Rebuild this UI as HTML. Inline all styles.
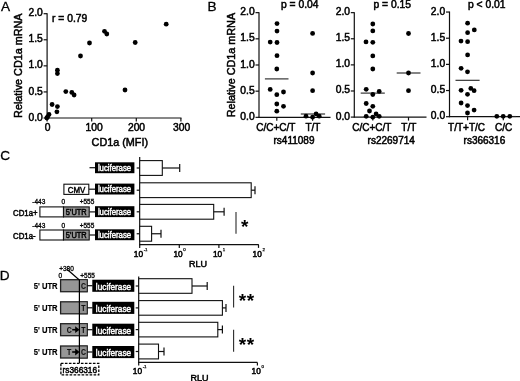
<!DOCTYPE html>
<html><head><meta charset="utf-8"><title>Figure</title>
<style>html,body{margin:0;padding:0;background:#fff;}svg{display:block;filter:blur(0.4px);}text{font-family:"Liberation Sans", Arial, Helvetica, sans-serif;fill:#000;stroke:#000;stroke-width:0.5px;}.tl{font-size:10.3px}.al{font-size:10.8px}.sm{font-size:9px}.pl{font-size:13.6px;stroke-width:0.3px}.ti{font-size:6.5px;stroke-width:0.3px}.w{fill:#fff;stroke:#fff;stroke-width:0.3px}</style></head><body>
<svg width="520" height="381" viewBox="0 0 520 381">
<rect width="520" height="381" fill="#fff"/>
<text x="1" y="10.9" class="pl" text-anchor="start" >A</text>
<line x1="47.1" y1="13.2" x2="47.1" y2="118.5" stroke="#101010" stroke-width="1.2"/>
<line x1="46.6" y1="118.0" x2="181.5" y2="118.0" stroke="#101010" stroke-width="1.2"/>
<line x1="43.6" y1="118.0" x2="47.1" y2="118.0" stroke="#101010" stroke-width="1.2"/>
<text x="42.800000000000004" y="121.0" class="tl" text-anchor="end" >0.0</text>
<line x1="43.6" y1="91.925" x2="47.1" y2="91.925" stroke="#101010" stroke-width="1.2"/>
<text x="42.800000000000004" y="94.625" class="tl" text-anchor="end" >0.5</text>
<line x1="43.6" y1="65.85" x2="47.1" y2="65.85" stroke="#101010" stroke-width="1.2"/>
<text x="42.800000000000004" y="68.25" class="tl" text-anchor="end" >1.0</text>
<line x1="43.6" y1="39.775000000000006" x2="47.1" y2="39.775000000000006" stroke="#101010" stroke-width="1.2"/>
<text x="42.800000000000004" y="41.875" class="tl" text-anchor="end" >1.5</text>
<line x1="43.6" y1="13.700000000000003" x2="47.1" y2="13.700000000000003" stroke="#101010" stroke-width="1.2"/>
<text x="42.800000000000004" y="15.5" class="tl" text-anchor="end" >2.0</text>
<line x1="47.1" y1="118.0" x2="47.1" y2="121.5" stroke="#101010" stroke-width="1.2"/>
<text x="47.5" y="131.2" class="tl" text-anchor="middle" >0</text>
<line x1="91.7" y1="118.0" x2="91.7" y2="121.5" stroke="#101010" stroke-width="1.2"/>
<text x="94.10000000000001" y="131.2" class="tl" text-anchor="middle" >100</text>
<line x1="136.3" y1="118.0" x2="136.3" y2="121.5" stroke="#101010" stroke-width="1.2"/>
<text x="136.5" y="131.2" class="tl" text-anchor="middle" >200</text>
<line x1="180.9" y1="118.0" x2="180.9" y2="121.5" stroke="#101010" stroke-width="1.2"/>
<text x="181.70000000000002" y="131.2" class="tl" text-anchor="middle" >300</text>
<text x="119.8" y="146" class="al" text-anchor="middle" >CD1a (MFI)</text>
<text transform="translate(22.3,65.7) rotate(-90)" class="al" text-anchor="middle">Relative CD1a mRNA</text>
<text x="52" y="21.5" class="tl" text-anchor="start" >r = 0.79</text>
<circle cx="166.2" cy="24.2" r="2.4" fill="#000"/>
<circle cx="135.2" cy="42.5" r="2.4" fill="#000"/>
<circle cx="104.5" cy="31.3" r="2.4" fill="#000"/>
<circle cx="106.8" cy="34" r="2.4" fill="#000"/>
<circle cx="89.5" cy="43" r="2.4" fill="#000"/>
<circle cx="80.5" cy="56" r="2.4" fill="#000"/>
<circle cx="57.4" cy="70.2" r="2.4" fill="#000"/>
<circle cx="57.4" cy="73.6" r="2.4" fill="#000"/>
<circle cx="125" cy="90" r="2.4" fill="#000"/>
<circle cx="65.8" cy="91.6" r="2.4" fill="#000"/>
<circle cx="71.8" cy="92.4" r="2.4" fill="#000"/>
<circle cx="74.1" cy="95" r="2.4" fill="#000"/>
<circle cx="52.1" cy="104.5" r="2.4" fill="#000"/>
<circle cx="57.4" cy="106.6" r="2.4" fill="#000"/>
<circle cx="56.9" cy="111.8" r="2.4" fill="#000"/>
<circle cx="49" cy="114.4" r="2.4" fill="#000"/>
<circle cx="47.7" cy="116.8" r="2.4" fill="#000"/>
<circle cx="46.8" cy="118" r="2.4" fill="#000"/>
<text x="207.6" y="10.8" class="pl" text-anchor="start" >B</text>
<text transform="translate(235.3,65.1) rotate(-90)" class="al" text-anchor="middle">Relative CD1a mRNA</text>
<line x1="259" y1="12.15" x2="259" y2="117.85" stroke="#101010" stroke-width="1.2"/>
<line x1="258.5" y1="117.35" x2="330.5" y2="117.35" stroke="#101010" stroke-width="1.2"/>
<line x1="255.5" y1="117.35" x2="259" y2="117.35" stroke="#101010" stroke-width="1.2"/>
<text x="254.7" y="119.85" class="tl" text-anchor="end" >0.0</text>
<line x1="255.5" y1="91.175" x2="259" y2="91.175" stroke="#101010" stroke-width="1.2"/>
<text x="254.7" y="93.675" class="tl" text-anchor="end" >0.5</text>
<line x1="255.5" y1="65.0" x2="259" y2="65.0" stroke="#101010" stroke-width="1.2"/>
<text x="254.7" y="67.5" class="tl" text-anchor="end" >1.0</text>
<line x1="255.5" y1="38.825" x2="259" y2="38.825" stroke="#101010" stroke-width="1.2"/>
<text x="254.7" y="41.325" class="tl" text-anchor="end" >1.5</text>
<line x1="255.5" y1="12.650000000000006" x2="259" y2="12.650000000000006" stroke="#101010" stroke-width="1.2"/>
<text x="254.7" y="15.150000000000006" class="tl" text-anchor="end" >2.0</text>
<line x1="276.8" y1="117.35" x2="276.8" y2="120.85" stroke="#101010" stroke-width="1.2"/>
<line x1="312.6" y1="117.35" x2="312.6" y2="120.85" stroke="#101010" stroke-width="1.2"/>
<text x="275.8" y="130.9" class="tl" text-anchor="middle" style="font-size:10px">C/C+C/T</text>
<text x="312.90000000000003" y="130.9" class="tl" text-anchor="middle" style="font-size:10px">T/T</text>
<text x="294" y="144.4" class="tl" text-anchor="middle" style="font-size:10px">rs411089</text>
<text x="299.7" y="8.2" class="tl" text-anchor="middle" >p = 0.04</text>
<line x1="264.9" y1="78.9" x2="288.5" y2="78.9" stroke="#222" stroke-width="1.1"/>
<line x1="300.8" y1="114.0" x2="325.1" y2="114.0" stroke="#222" stroke-width="1.1"/>
<circle cx="277" cy="23.6" r="2.4" fill="#000"/>
<circle cx="277" cy="31.1" r="2.4" fill="#000"/>
<circle cx="270.2" cy="42.1" r="2.4" fill="#000"/>
<circle cx="277" cy="42.5" r="2.4" fill="#000"/>
<circle cx="277" cy="55.7" r="2.4" fill="#000"/>
<circle cx="276.8" cy="69" r="2.4" fill="#000"/>
<circle cx="270.2" cy="89.4" r="2.4" fill="#000"/>
<circle cx="283.5" cy="92" r="2.4" fill="#000"/>
<circle cx="276.8" cy="94.7" r="2.4" fill="#000"/>
<circle cx="276.8" cy="104" r="2.4" fill="#000"/>
<circle cx="283.5" cy="106.3" r="2.4" fill="#000"/>
<circle cx="276.8" cy="111.2" r="2.4" fill="#000"/>
<circle cx="312.6" cy="33.4" r="2.4" fill="#000"/>
<circle cx="312.6" cy="73" r="2.4" fill="#000"/>
<circle cx="312.6" cy="90.7" r="2.4" fill="#000"/>
<circle cx="316.1" cy="113.9" r="2.4" fill="#000"/>
<circle cx="306" cy="116.2" r="2.4" fill="#000"/>
<circle cx="312.6" cy="117.2" r="2.4" fill="#000"/>
<circle cx="319.2" cy="116.2" r="2.4" fill="#000"/>
<line x1="354.3" y1="12.15" x2="354.3" y2="117.6" stroke="#101010" stroke-width="1.2"/>
<line x1="353.8" y1="117.1" x2="426.5" y2="117.1" stroke="#101010" stroke-width="1.2"/>
<line x1="350.8" y1="117.1" x2="354.3" y2="117.1" stroke="#101010" stroke-width="1.2"/>
<text x="350.0" y="119.6" class="tl" text-anchor="end" >0.0</text>
<line x1="350.8" y1="90.9875" x2="354.3" y2="90.9875" stroke="#101010" stroke-width="1.2"/>
<text x="350.0" y="93.4875" class="tl" text-anchor="end" >0.5</text>
<line x1="350.8" y1="64.875" x2="354.3" y2="64.875" stroke="#101010" stroke-width="1.2"/>
<text x="350.0" y="67.375" class="tl" text-anchor="end" >1.0</text>
<line x1="350.8" y1="38.7625" x2="354.3" y2="38.7625" stroke="#101010" stroke-width="1.2"/>
<text x="350.0" y="41.2625" class="tl" text-anchor="end" >1.5</text>
<line x1="350.8" y1="12.650000000000006" x2="354.3" y2="12.650000000000006" stroke="#101010" stroke-width="1.2"/>
<text x="350.0" y="15.150000000000006" class="tl" text-anchor="end" >2.0</text>
<line x1="372.8" y1="117.1" x2="372.8" y2="120.6" stroke="#101010" stroke-width="1.2"/>
<line x1="408.5" y1="117.1" x2="408.5" y2="120.6" stroke="#101010" stroke-width="1.2"/>
<text x="371.8" y="130.9" class="tl" text-anchor="middle" style="font-size:10px">C/C+C/T</text>
<text x="408.8" y="130.9" class="tl" text-anchor="middle" style="font-size:10px">T/T</text>
<text x="391.2" y="144.4" class="tl" text-anchor="middle" style="font-size:10px">rs2269714</text>
<text x="392.2" y="8.2" class="tl" text-anchor="middle" >p = 0.15</text>
<line x1="360.7" y1="93.1" x2="384.8" y2="93.1" stroke="#222" stroke-width="1.1"/>
<line x1="396.7" y1="73" x2="420.5" y2="73" stroke="#222" stroke-width="1.1"/>
<circle cx="372.8" cy="24" r="2.4" fill="#000"/>
<circle cx="372.8" cy="30.9" r="2.4" fill="#000"/>
<circle cx="366" cy="41.9" r="2.4" fill="#000"/>
<circle cx="372.8" cy="42.3" r="2.4" fill="#000"/>
<circle cx="372.8" cy="55.9" r="2.4" fill="#000"/>
<circle cx="372.8" cy="69" r="2.4" fill="#000"/>
<circle cx="366.2" cy="89.3" r="2.4" fill="#000"/>
<circle cx="379.2" cy="91.4" r="2.4" fill="#000"/>
<circle cx="372.8" cy="94.5" r="2.4" fill="#000"/>
<circle cx="366.2" cy="103.5" r="2.4" fill="#000"/>
<circle cx="372.8" cy="106.3" r="2.4" fill="#000"/>
<circle cx="369.5" cy="111" r="2.4" fill="#000"/>
<circle cx="376.1" cy="113.9" r="2.4" fill="#000"/>
<circle cx="366.2" cy="116.3" r="2.4" fill="#000"/>
<circle cx="372.8" cy="117.2" r="2.4" fill="#000"/>
<circle cx="379.2" cy="116.3" r="2.4" fill="#000"/>
<circle cx="408.5" cy="33.5" r="2.4" fill="#000"/>
<circle cx="408.5" cy="73" r="2.4" fill="#000"/>
<circle cx="408.5" cy="90.7" r="2.4" fill="#000"/>
<line x1="449.5" y1="11.55" x2="449.5" y2="117.2" stroke="#101010" stroke-width="1.2"/>
<line x1="449.0" y1="116.7" x2="520" y2="116.7" stroke="#101010" stroke-width="1.2"/>
<line x1="446.0" y1="116.7" x2="449.5" y2="116.7" stroke="#101010" stroke-width="1.2"/>
<text x="445.2" y="119.2" class="tl" text-anchor="end" >0.0</text>
<line x1="446.0" y1="90.5375" x2="449.5" y2="90.5375" stroke="#101010" stroke-width="1.2"/>
<text x="445.2" y="93.0375" class="tl" text-anchor="end" >0.5</text>
<line x1="446.0" y1="64.375" x2="449.5" y2="64.375" stroke="#101010" stroke-width="1.2"/>
<text x="445.2" y="66.875" class="tl" text-anchor="end" >1.0</text>
<line x1="446.0" y1="38.21249999999999" x2="449.5" y2="38.21249999999999" stroke="#101010" stroke-width="1.2"/>
<text x="445.2" y="40.71249999999999" class="tl" text-anchor="end" >1.5</text>
<line x1="446.0" y1="12.049999999999997" x2="449.5" y2="12.049999999999997" stroke="#101010" stroke-width="1.2"/>
<text x="445.2" y="14.549999999999997" class="tl" text-anchor="end" >2.0</text>
<line x1="467.6" y1="116.7" x2="467.6" y2="120.2" stroke="#101010" stroke-width="1.2"/>
<line x1="503.3" y1="116.7" x2="503.3" y2="120.2" stroke="#101010" stroke-width="1.2"/>
<text x="466.6" y="130.9" class="tl" text-anchor="middle" style="font-size:10px">T/T+T/C</text>
<text x="503.6" y="130.9" class="tl" text-anchor="middle" style="font-size:10px">C/C</text>
<text x="484.4" y="144.4" class="tl" text-anchor="middle" style="font-size:10px">rs366316</text>
<text x="486.8" y="8.2" class="tl" text-anchor="middle" >p &lt; 0.01</text>
<line x1="455.5" y1="80.3" x2="479.6" y2="80.3" stroke="#222" stroke-width="1.1"/>
<line x1="492" y1="116.5" x2="516" y2="116.5" stroke="#222" stroke-width="1.1"/>
<circle cx="467.6" cy="23.2" r="2.4" fill="#000"/>
<circle cx="474.3" cy="29.9" r="2.4" fill="#000"/>
<circle cx="467.6" cy="32.7" r="2.4" fill="#000"/>
<circle cx="461" cy="41.1" r="2.4" fill="#000"/>
<circle cx="467.6" cy="41.7" r="2.4" fill="#000"/>
<circle cx="467.6" cy="54.9" r="2.4" fill="#000"/>
<circle cx="461.1" cy="68.3" r="2.4" fill="#000"/>
<circle cx="467.5" cy="71.8" r="2.4" fill="#000"/>
<circle cx="470.8" cy="88.4" r="2.4" fill="#000"/>
<circle cx="461.1" cy="90.3" r="2.4" fill="#000"/>
<circle cx="474.1" cy="90.7" r="2.4" fill="#000"/>
<circle cx="467.5" cy="94.3" r="2.4" fill="#000"/>
<circle cx="461.1" cy="103" r="2.4" fill="#000"/>
<circle cx="467.5" cy="105.6" r="2.4" fill="#000"/>
<circle cx="474.1" cy="110.1" r="2.4" fill="#000"/>
<circle cx="467.5" cy="113" r="2.4" fill="#000"/>
<circle cx="496.8" cy="116.3" r="2.4" fill="#000"/>
<circle cx="503.2" cy="116.3" r="2.4" fill="#000"/>
<circle cx="509.8" cy="116.3" r="2.4" fill="#000"/>
<text x="0.3" y="159.7" class="pl" text-anchor="start" >C</text>
<rect x="95" y="162.3" width="39.4" height="10.9" fill="#000"/>
<text transform="translate(114.5,170.75) scale(0.915,1)" class="sm w" text-anchor="middle" style="font-size:8.5px;stroke-width:0.45px">luciferase</text>
<rect x="95" y="183.6" width="39.4" height="10.9" fill="#000"/>
<text transform="translate(114.5,192.04999999999998) scale(0.915,1)" class="sm w" text-anchor="middle" style="font-size:8.5px;stroke-width:0.45px">luciferase</text>
<rect x="95" y="206.2" width="39.4" height="10.9" fill="#000"/>
<text transform="translate(114.5,214.64999999999998) scale(0.915,1)" class="sm w" text-anchor="middle" style="font-size:8.5px;stroke-width:0.45px">luciferase</text>
<rect x="95" y="229.3" width="39.4" height="10.9" fill="#000"/>
<text transform="translate(114.5,237.75) scale(0.915,1)" class="sm w" text-anchor="middle" style="font-size:8.5px;stroke-width:0.45px">luciferase</text>
<line x1="89.5" y1="167.7" x2="95" y2="167.7" stroke="#101010" stroke-width="1.2"/>
<rect x="63.9" y="184.2" width="24.9" height="10.2" fill="#fff" stroke="#101010" stroke-width="1.1"/>
<text transform="translate(76.5,192.6) scale(0.88,1)" class="sm" text-anchor="middle" >CMV</text>
<line x1="89" y1="189.2" x2="95" y2="189.2" stroke="#101010" stroke-width="1.2"/>
<rect x="39.9" y="206.9" width="23.6" height="10" fill="#fff" stroke="#101010" stroke-width="1.1"/>
<rect x="63.5" y="206.9" width="25.7" height="10" fill="#949494" stroke="#101010" stroke-width="1.1"/>
<text transform="translate(76.3,215.20000000000002) scale(0.9,1)" class="sm" text-anchor="middle" style="font-size:8.3px;stroke-width:0.45px">5'UTR</text>
<line x1="89.5" y1="211.9" x2="95" y2="211.9" stroke="#101010" stroke-width="1.2"/>
<text transform="translate(13,215.9) scale(0.87,1)" class="sm" text-anchor="start" >CD1a+</text>
<text x="38.8" y="204.4" class="ti" text-anchor="middle" >-443</text>
<text x="63.4" y="204.4" class="ti" text-anchor="middle" >0</text>
<text x="87" y="204.4" class="ti" text-anchor="middle" >+555</text>
<rect x="39.9" y="230.0" width="23.6" height="10" fill="#fff" stroke="#101010" stroke-width="1.1"/>
<rect x="63.5" y="230.0" width="25.7" height="10" fill="#949494" stroke="#101010" stroke-width="1.1"/>
<text transform="translate(76.3,238.3) scale(0.9,1)" class="sm" text-anchor="middle" style="font-size:8.3px;stroke-width:0.45px">5'UTR</text>
<line x1="89.5" y1="235.0" x2="95" y2="235.0" stroke="#101010" stroke-width="1.2"/>
<text transform="translate(13,239.0) scale(0.87,1)" class="sm" text-anchor="start" >CD1a-</text>
<text x="38.8" y="227.5" class="ti" text-anchor="middle" >-443</text>
<text x="63.4" y="227.5" class="ti" text-anchor="middle" >0</text>
<text x="87" y="227.5" class="ti" text-anchor="middle" >+555</text>
<line x1="139.7" y1="157" x2="139.7" y2="245.2" stroke="#101010" stroke-width="1.2"/>
<line x1="139.2" y1="244.7" x2="258.8" y2="244.7" stroke="#101010" stroke-width="1.2"/>
<line x1="139.7" y1="244.7" x2="139.7" y2="247.89999999999998" stroke="#101010" stroke-width="1.2"/>
<line x1="179.29999999999998" y1="244.7" x2="179.29999999999998" y2="247.89999999999998" stroke="#101010" stroke-width="1.2"/>
<line x1="218.89999999999998" y1="244.7" x2="218.89999999999998" y2="247.89999999999998" stroke="#101010" stroke-width="1.2"/>
<line x1="258.5" y1="244.7" x2="258.5" y2="247.89999999999998" stroke="#101010" stroke-width="1.2"/>
<text x="133.79999999999998" y="256.8" style="font-size:8.3px">10<tspan dx="0.6" dy="-5.6" style="font-size:4.3px;stroke-width:0.25px">-1</tspan></text>
<text x="173.39999999999998" y="256.8" style="font-size:8.3px">10<tspan dx="0.6" dy="-5.6" style="font-size:4.3px;stroke-width:0.25px">0</tspan></text>
<text x="212.99999999999997" y="256.8" style="font-size:8.3px">10<tspan dx="0.6" dy="-5.6" style="font-size:4.3px;stroke-width:0.25px">1</tspan></text>
<text x="252.6" y="256.8" style="font-size:8.3px">10<tspan dx="0.6" dy="-5.6" style="font-size:4.3px;stroke-width:0.25px">2</tspan></text>
<text x="198" y="266.7" class="sm" text-anchor="middle" >RLU</text>
<rect x="139.7" y="160.6" width="22.600000000000023" height="14.8" fill="#fff" stroke="#101010" stroke-width="1.1"/>
<line x1="162.3" y1="168.0" x2="179.7" y2="168.0" stroke="#101010" stroke-width="1.2"/>
<line x1="179.7" y1="164.0" x2="179.7" y2="172.0" stroke="#101010" stroke-width="1.2"/>
<line x1="136.7" y1="168.0" x2="139.7" y2="168.0" stroke="#101010" stroke-width="1.2"/>
<rect x="139.7" y="182.8" width="111.5" height="14.8" fill="#fff" stroke="#101010" stroke-width="1.1"/>
<line x1="251.2" y1="190.20000000000002" x2="255" y2="190.20000000000002" stroke="#101010" stroke-width="1.2"/>
<line x1="255" y1="186.20000000000002" x2="255" y2="194.20000000000002" stroke="#101010" stroke-width="1.2"/>
<line x1="136.7" y1="190.20000000000002" x2="139.7" y2="190.20000000000002" stroke="#101010" stroke-width="1.2"/>
<rect x="139.7" y="204.4" width="74.0" height="14.8" fill="#fff" stroke="#101010" stroke-width="1.1"/>
<line x1="213.7" y1="211.8" x2="224.1" y2="211.8" stroke="#101010" stroke-width="1.2"/>
<line x1="224.1" y1="207.8" x2="224.1" y2="215.8" stroke="#101010" stroke-width="1.2"/>
<line x1="136.7" y1="211.8" x2="139.7" y2="211.8" stroke="#101010" stroke-width="1.2"/>
<rect x="139.7" y="226.3" width="11.900000000000006" height="14.9" fill="#fff" stroke="#101010" stroke-width="1.1"/>
<line x1="151.6" y1="233.75" x2="161" y2="233.75" stroke="#101010" stroke-width="1.2"/>
<line x1="161" y1="229.75" x2="161" y2="237.75" stroke="#101010" stroke-width="1.2"/>
<line x1="136.7" y1="233.75" x2="139.7" y2="233.75" stroke="#101010" stroke-width="1.2"/>
<line x1="236" y1="212" x2="236" y2="233.7" stroke="#2a2a2a" stroke-width="1.1"/>
<text x="244.7" y="232.9" class="pl" text-anchor="middle" style="font-size:19px;font-weight:bold;stroke-width:0">*</text>
<text x="-0.3" y="279.6" class="pl" text-anchor="start" >D</text>
<rect x="60.6" y="279.7" width="26.6" height="12" fill="#969696" stroke="#222" stroke-width="1.3"/>
<rect x="79.5" y="279.7" width="7.7" height="12" fill="#909090" stroke="#222" stroke-width="0.9"/>
<text transform="translate(33.7,288.9) scale(0.85,1)" class="sm" text-anchor="start" style="font-weight:bold;stroke-width:0.15px">5' UTR</text>
<line x1="87.2" y1="285.7" x2="92.5" y2="285.7" stroke="#101010" stroke-width="1.2"/>
<rect x="92.3" y="279.7" width="42" height="12.1" fill="#000"/>
<text transform="translate(113.5,289.7) scale(0.92,1)" class="sm w" text-anchor="middle" style="font-size:9px;stroke-width:0.45px">luciferase</text>
<text transform="translate(83.4,288.8) scale(0.85,1)" class="sm" text-anchor="middle" style="font-weight:bold;font-size:8.2px;stroke-width:0.1px;fill:#111">C</text>
<rect x="60.6" y="301.8" width="26.6" height="12" fill="#969696" stroke="#222" stroke-width="1.3"/>
<rect x="79.5" y="301.8" width="7.7" height="12" fill="#909090" stroke="#222" stroke-width="0.9"/>
<text transform="translate(33.7,311.0) scale(0.85,1)" class="sm" text-anchor="start" style="font-weight:bold;stroke-width:0.15px">5' UTR</text>
<line x1="87.2" y1="307.8" x2="92.5" y2="307.8" stroke="#101010" stroke-width="1.2"/>
<rect x="92.3" y="301.8" width="42" height="12.1" fill="#000"/>
<text transform="translate(113.5,311.8) scale(0.92,1)" class="sm w" text-anchor="middle" style="font-size:9px;stroke-width:0.45px">luciferase</text>
<text transform="translate(83.4,310.90000000000003) scale(0.85,1)" class="sm" text-anchor="middle" style="font-weight:bold;font-size:8.2px;stroke-width:0.1px;fill:#111">T</text>
<rect x="60.6" y="323.7" width="26.6" height="12" fill="#969696" stroke="#222" stroke-width="1.3"/>
<rect x="79.5" y="323.7" width="7.7" height="12" fill="#909090" stroke="#222" stroke-width="0.9"/>
<text transform="translate(33.7,332.9) scale(0.85,1)" class="sm" text-anchor="start" style="font-weight:bold;stroke-width:0.15px">5' UTR</text>
<line x1="87.2" y1="329.7" x2="92.5" y2="329.7" stroke="#101010" stroke-width="1.2"/>
<rect x="92.3" y="323.7" width="42" height="12.1" fill="#000"/>
<text transform="translate(113.5,333.7) scale(0.92,1)" class="sm w" text-anchor="middle" style="font-size:9px;stroke-width:0.45px">luciferase</text>
<text transform="translate(83.4,332.8) scale(0.85,1)" class="sm" text-anchor="middle" style="font-weight:bold;font-size:8.2px;stroke-width:0.1px;fill:#111">T</text>
<text transform="translate(69.2,332.8) scale(0.85,1)" class="sm" text-anchor="middle" style="font-weight:bold;font-size:8.2px;stroke-width:0.1px;fill:#111">C</text>
<line x1="72.2" y1="329.7" x2="77" y2="329.7" stroke="#000" stroke-width="1.6"/>
<path d="M75.2 326.3 L79.6 329.7 L75.2 333.09999999999997 Z" fill="#000"/>
<rect x="60.6" y="346.0" width="26.6" height="12" fill="#969696" stroke="#222" stroke-width="1.3"/>
<rect x="79.5" y="346.0" width="7.7" height="12" fill="#909090" stroke="#222" stroke-width="0.9"/>
<text transform="translate(33.7,355.2) scale(0.85,1)" class="sm" text-anchor="start" style="font-weight:bold;stroke-width:0.15px">5' UTR</text>
<line x1="87.2" y1="352.0" x2="92.5" y2="352.0" stroke="#101010" stroke-width="1.2"/>
<rect x="92.3" y="346.0" width="42" height="12.1" fill="#000"/>
<text transform="translate(113.5,356.0) scale(0.92,1)" class="sm w" text-anchor="middle" style="font-size:9px;stroke-width:0.45px">luciferase</text>
<text transform="translate(83.4,355.1) scale(0.85,1)" class="sm" text-anchor="middle" style="font-weight:bold;font-size:8.2px;stroke-width:0.1px;fill:#111">C</text>
<text transform="translate(69.2,355.1) scale(0.85,1)" class="sm" text-anchor="middle" style="font-weight:bold;font-size:8.2px;stroke-width:0.1px;fill:#111">T</text>
<line x1="72.2" y1="352.0" x2="77" y2="352.0" stroke="#000" stroke-width="1.6"/>
<path d="M75.2 348.6 L79.6 352.0 L75.2 355.4 Z" fill="#000"/>
<text x="66.5" y="270.7" class="ti" text-anchor="middle" >+380</text>
<text x="60.3" y="277.9" class="ti" text-anchor="middle" >0</text>
<text x="87.6" y="277.9" class="ti" text-anchor="middle" >+555</text>
<path d="M67.3 269.5 L79.4 280 L79.4 363" fill="none" stroke="#000" stroke-width="1.2"/>
<rect x="60.9" y="363.4" width="37.9" height="11.5" fill="#fff" stroke="#000" stroke-width="1.3" stroke-dasharray="2.6,1.4"/>
<text transform="translate(79.8,372.7) scale(0.9,1)" class="sm" text-anchor="middle" style="font-size:9.2px">rs366316</text>
<line x1="138.7" y1="276.5" x2="138.7" y2="362.9" stroke="#101010" stroke-width="1.2"/>
<line x1="138.2" y1="362.4" x2="257.4" y2="362.4" stroke="#101010" stroke-width="1.2"/>
<line x1="138.7" y1="362.4" x2="138.7" y2="365.4" stroke="#101010" stroke-width="1.2"/>
<line x1="257.4" y1="362.4" x2="257.4" y2="365.4" stroke="#101010" stroke-width="1.2"/>
<text x="132.79999999999998" y="373.6" style="font-size:8.3px">10<tspan dx="0.6" dy="-5.6" style="font-size:4.3px;stroke-width:0.25px">-1</tspan></text>
<text x="251.6" y="373.6" style="font-size:8.3px">10<tspan dx="0.6" dy="-5.6" style="font-size:4.3px;stroke-width:0.25px">0</tspan></text>
<text x="199.4" y="380.5" class="sm" text-anchor="middle" >RLU</text>
<rect x="138.7" y="278.7" width="53.30000000000001" height="14.6" fill="#fff" stroke="#101010" stroke-width="1.1"/>
<line x1="192" y1="286.0" x2="207.2" y2="286.0" stroke="#101010" stroke-width="1.2"/>
<line x1="207.2" y1="282.0" x2="207.2" y2="290.0" stroke="#101010" stroke-width="1.2"/>
<line x1="135.7" y1="286.0" x2="138.7" y2="286.0" stroke="#101010" stroke-width="1.2"/>
<rect x="138.7" y="300.6" width="83.70000000000002" height="14.6" fill="#fff" stroke="#101010" stroke-width="1.1"/>
<line x1="222.4" y1="307.90000000000003" x2="226" y2="307.90000000000003" stroke="#101010" stroke-width="1.2"/>
<line x1="226" y1="303.90000000000003" x2="226" y2="311.90000000000003" stroke="#101010" stroke-width="1.2"/>
<line x1="135.7" y1="307.90000000000003" x2="138.7" y2="307.90000000000003" stroke="#101010" stroke-width="1.2"/>
<rect x="138.7" y="322.3" width="79.10000000000002" height="14.6" fill="#fff" stroke="#101010" stroke-width="1.1"/>
<line x1="217.8" y1="329.6" x2="222.4" y2="329.6" stroke="#101010" stroke-width="1.2"/>
<line x1="222.4" y1="325.6" x2="222.4" y2="333.6" stroke="#101010" stroke-width="1.2"/>
<line x1="135.7" y1="329.6" x2="138.7" y2="329.6" stroke="#101010" stroke-width="1.2"/>
<rect x="138.7" y="344.1" width="19.80000000000001" height="14.8" fill="#fff" stroke="#101010" stroke-width="1.1"/>
<line x1="158.5" y1="351.5" x2="164" y2="351.5" stroke="#101010" stroke-width="1.2"/>
<line x1="164" y1="347.5" x2="164" y2="355.5" stroke="#101010" stroke-width="1.2"/>
<line x1="135.7" y1="351.5" x2="138.7" y2="351.5" stroke="#101010" stroke-width="1.2"/>
<line x1="233.6" y1="285.7" x2="233.6" y2="307.6" stroke="#2a2a2a" stroke-width="1.1"/>
<line x1="233.6" y1="329.8" x2="233.6" y2="351.7" stroke="#2a2a2a" stroke-width="1.1"/>
<text x="246.7" y="306.8" class="pl" text-anchor="middle" style="font-size:19px;font-weight:bold;stroke-width:0;letter-spacing:0.6px">**</text>
<text x="246.7" y="350.5" class="pl" text-anchor="middle" style="font-size:19px;font-weight:bold;stroke-width:0;letter-spacing:0.6px">**</text>
</svg></body></html>
